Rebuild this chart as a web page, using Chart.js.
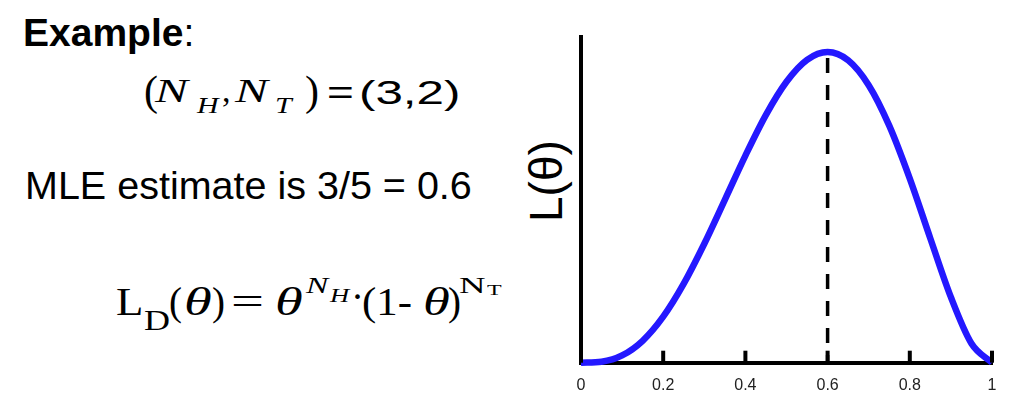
<!DOCTYPE html>
<html>
<head>
<meta charset="utf-8">
<script src="https://cdn.jsdelivr.net/npm/chart.js@4.4.0/dist/chart.umd.min.js"></script>
<style>
	html, body { margin: 0; padding: 0; background: #fff; }
	#page { position: relative; width: 1030px; height: 402px; overflow: hidden; background: #fff; }
	.t { position: absolute; line-height: 1; white-space: pre; color: #000; transform-origin: 0 0; }
	.s { font-family: 'Liberation Serif', 'Times New Roman', serif; }
	.a { font-family: 'Liberation Sans', Arial, sans-serif; }
	.i { font-style: italic; }
	#myChart { position: absolute; left: 500px; top: 0; }
</style>
</head>
<body>
<div id="page">
	<!-- left side text -->
	<div class="t a" style="left:23px;top:12.7px;font-size:39px;"><b>Example</b>:</div>

	<div class="t s" style="left:144px;top:69.8px;font-size:42px;">(</div>
	<div class="t s i" style="left:155px;top:73.8px;font-size:34px;transform:scaleX(1.45);">N</div>
	<div class="t s i" style="left:197px;top:94px;font-size:23px;transform:scaleX(1.3);">H</div>
	<div class="t s" style="left:222px;top:73.8px;font-size:34px;">,</div>
	<div class="t s i" style="left:235px;top:73.8px;font-size:34px;transform:scaleX(1.45);">N</div>
	<div class="t s i" style="left:275px;top:94px;font-size:23px;transform:scaleX(1.3);">T</div>
	<div class="t s" style="left:305px;top:69.8px;font-size:42px;">)</div>
	<div class="t a" style="left:327px;top:74.5px;font-size:34px;transform:scaleX(1.35);">=</div>
	<div class="t a" style="left:359px;top:74.5px;font-size:34px;transform:scaleX(1.45);">(3,2)</div>

	<div class="t a" style="left:25px;top:165.6px;font-size:39.5px;">MLE estimate is 3/5 = 0.6</div>

	<div class="t s" style="left:116px;top:281.6px;font-size:39px;transform:scaleX(1.15);">L</div>
	<div class="t s" style="left:144px;top:304.9px;font-size:30px;transform:scaleX(1.2);">D</div>
	<div class="t s" style="left:169px;top:281.6px;font-size:39px;">(</div>
	<div class="t s i" style="left:184px;top:281.6px;font-size:39px;transform:scaleX(1.45);">θ</div>
	<div class="t s" style="left:212px;top:281.6px;font-size:39px;">)</div>
	<div class="t s" style="left:231px;top:281.6px;font-size:39px;transform:scaleX(1.5);">=</div>
	<div class="t s i" style="left:275px;top:281.6px;font-size:39px;transform:scaleX(1.45);">θ</div>
	<div class="t s i" style="left:306px;top:274px;font-size:23px;transform:scaleX(1.45);">N</div>
	<div class="t s i" style="left:330px;top:286.4px;font-size:19px;transform:scaleX(1.4);">H</div>
	<div class="t s" style="left:351px;top:277.3px;font-size:39px;">·</div>
	<div class="t s" style="left:362px;top:281.6px;font-size:39px;transform:scaleX(1.1);">(1-</div>
	<div class="t s i" style="left:423px;top:281.6px;font-size:39px;transform:scaleX(1.4);">θ</div>
	<div class="t s" style="left:448px;top:281.6px;font-size:39px;">)</div>
	<div class="t s" style="left:459px;top:274px;font-size:23px;transform:scaleX(1.6);">N</div>
	<div class="t s" style="left:487px;top:283.1px;font-size:15px;transform:scaleX(1.6);">T</div>

	<!-- y axis label -->
	<div class="t a" style="left:522.8px;top:221.7px;font-size:46px;transform:rotate(-90deg);">L(θ)</div>

	<canvas id="myChart" width="530" height="402"></canvas>
</div>
<script>
	// theta on the x axis, likelihood
	var thetaValues = [0, 0.05, 0.1, 0.15, 0.2, 0.25, 0.3, 0.35, 0.4, 0.45, 0.5,
		0.55, 0.6, 0.65, 0.7, 0.75, 0.8, 0.85, 0.9, 0.95, 1];
	var likelihoodValues = [0, 0.00011, 0.00081, 0.00244, 0.00512, 0.00879, 0.01323, 0.01812, 0.02304, 0.02757, 0.03125,
		0.03369, 0.03456, 0.03364, 0.03087, 0.02637, 0.02048, 0.01382, 0.00729, 0.00214, 0];

	// dashed marker at the MLE
	var mleTheta = [0.6, 0.6];
	var mleMarker = [0.0339, 0];

	var xTickValues = [0, 0.2, 0.4, 0.6, 0.8, 1];
	var xTickLabels = ['0', '0.2', '0.4', '0.6', '0.8', '1'];

	var curve = [];
	for (var i in thetaValues) {
		curve.push({x: thetaValues[i], y: likelihoodValues[i]});
	}
	var marker = [];
	for (var j in mleTheta) {
		marker.push({x: mleTheta[j], y: mleMarker[j]});
	}

	// tick marks point up into the plot
	var innerTicks = {
		id: 'innerTicks',
		afterDraw: function(chart) {
			var sx = chart.scales.x;
			var ctx = chart.ctx;
			var bottom = chart.chartArea.bottom;
			ctx.save();
			ctx.strokeStyle = '#000';
			ctx.lineWidth = 4;
			xTickValues.forEach(function(v) {
				var px = sx.getPixelForValue(v);
				ctx.beginPath();
				ctx.moveTo(px, bottom);
				ctx.lineTo(px, bottom - 12);
				ctx.stroke();
			});
			ctx.restore();
		}
	};

	var config = {
		type: 'line',
		data: {
			datasets: [{
				label: 'L(θ)',
				data: curve,
				borderColor: '#2418ff',
				borderWidth: 6.5,
				borderCapStyle: 'butt',
				cubicInterpolationMode: 'monotone',
				pointRadius: 0,
				fill: false,
				clip: false
			}, {
				label: 'MLE',
				data: marker,
				borderColor: '#000',
				borderWidth: 3.5,
				borderDash: [15, 12],
				pointRadius: 0,
				fill: false,
				clip: false
			}]
		},
		options: {
			responsive: false,
			animation: false,
			layout: {padding: {top: 37, right: 38, left: 0, bottom: 0}},
			plugins: {legend: {display: false}, tooltip: {enabled: false}},
			scales: {
				x: {
					type: 'linear',
					min: 0,
					max: 1,
					afterBuildTicks: function(scale) {
						scale.ticks = xTickValues.map(function(v) { return {value: v}; });
					},
					afterFit: function(scale) { scale.height = 39.3; },
					grid: {display: false},
					border: {display: true, color: '#000', width: 4},
					ticks: {
						padding: 5,
						color: '#222',
						font: {family: "'Liberation Sans', Arial, sans-serif", size: 16},
						maxRotation: 0,
						autoSkip: false,
						callback: function(value, index) { return xTickLabels[index]; }
					}
				},
				y: {
					min: 0,
					max: 0.03623,
					afterFit: function(scale) { scale.width = 81; },
					grid: {display: false},
					border: {display: true, color: '#000', width: 4},
					ticks: {display: false}
				}
			}
		},
		plugins: [innerTicks]
	};

	var ctx = document.getElementById('myChart').getContext('2d');
	window.myLine = new Chart(ctx, config);
</script>
</body>
</html>
